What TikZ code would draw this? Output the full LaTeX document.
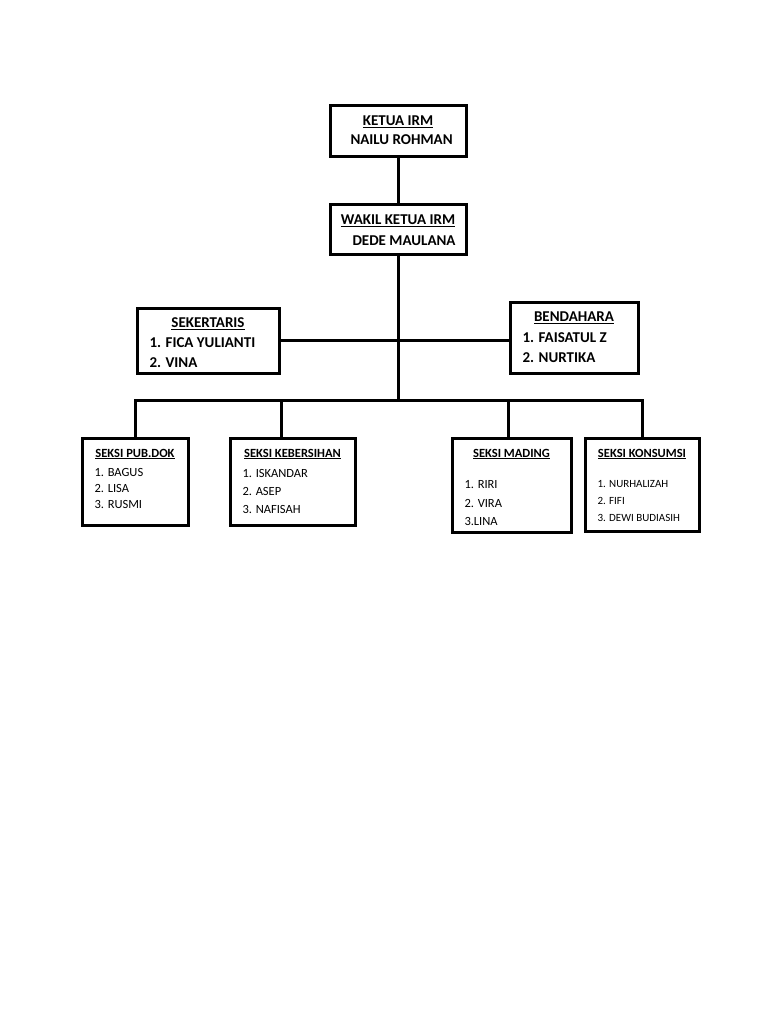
\documentclass[tikz,border=0pt]{standalone}
\usepackage{fontspec}
\setmainfont{Carlito}
\begin{document}
\begin{tikzpicture}[x=1pt,y=-1pt,line width=3pt]
        \tikzstyle{jabatan}=[draw=black,inner sep=0pt]
        \tikzstyle{garis}=[draw=black,line width=3pt]
        \tikzstyle{judul}=[font=\fontsize{15}{15}\selectfont\bfseries,inner sep=0pt]
        \tikzstyle{isi}=[font=\fontsize{15}{15}\selectfont,anchor=west,inner sep=0pt]
        \tikzstyle{judulkecil}=[font=\fontsize{12.5}{12}\selectfont\bfseries,inner sep=0pt]
        \tikzstyle{isikecil}=[font=\fontsize{12.5}{12}\selectfont,anchor=west,inner sep=0pt]
        \useasboundingbox (0,0) rectangle (768,1024);
        % kotak
        \node [jabatan,minimum width=136,minimum height=51] (ketua) at (398,131.5) {};
        \node [jabatan,minimum width=136,minimum height=49] (wakil) at (398,229.5) {};
        \node [jabatan,minimum width=142,minimum height=65] (sekretaris) at (208,340.5) {};
        \node [jabatan,minimum width=128,minimum height=71] (bendahara) at (574,337.5) {};
        \node [jabatan,minimum width=106,minimum height=87] (pubdok) at (135,481.5) {};
        \node [jabatan,minimum width=125,minimum height=87] (kebersihan) at (292.5,481.5) {};
        \node [jabatan,minimum width=119,minimum height=94] (mading) at (511.5,485) {};
        \node [jabatan,minimum width=114,minimum height=93] (konsumsi) at (642,484.5) {};
        % teks
        \node [judul] at (398,122) {\underline{KETUA IRM}};
        \node [isi] at (349,140) {\bfseries NAILU ROHMAN};
        \node [judul] at (398,221) {\underline{WAKIL KETUA IRM}};
        \node [isi] at (351,241) {\bfseries DEDE MAULANA};
        \node [judul] at (208,324) {\underline{SEKERTARIS}};
        \node [isi] at (148,343) {\bfseries 1. FICA YULIANTI};
        \node [isi] at (148,363) {\bfseries 2. VINA};
        \node [judul] at (574,318) {\underline{BENDAHARA}};
        \node [isi] at (521,338) {\bfseries 1. FAISATUL Z};
        \node [isi] at (521,358) {\bfseries 2. NURTIKA};
        \node [judulkecil] at (135,454) {\underline{SEKSI PUB.DOK}};
        \node [isikecil] at (93,472) {1. BAGUS};
        \node [isikecil] at (93,488) {2. LISA};
        \node [isikecil] at (93,504) {3. RUSMI};
        \node [judulkecil] at (292.5,454) {\underline{SEKSI KEBERSIHAN}};
        \node [isikecil] at (241,473) {1. ISKANDAR};
        \node [isikecil] at (241,491) {2. ASEP};
        \node [isikecil] at (241,509) {3. NAFISAH};
        \node [judulkecil] at (511.5,454) {\underline{SEKSI MADING}};
        \node [isikecil] at (463,485) {1. RIRI};
        \node [isikecil] at (463,503) {2. VIRA};
        \node [isikecil] at (463,521) {3.LINA};
        \node [judulkecil] at (642,454) {\underline{SEKSI KONSUMSI}};
        \node [isikecil,font=\fontsize{11}{11}\selectfont] at (596,484) {1. NURHALIZAH};
        \node [isikecil,font=\fontsize{11}{11}\selectfont] at (596,501) {2. FIFI};
        \node [isikecil,font=\fontsize{11}{11}\selectfont] at (596,518) {3. DEWI BUDIASIH};
        % garis
        \coordinate (cabang) at (398,400);
        \path[garis] (ketua) -- (wakil);
        \path[garis] (wakil) -- (cabang);
        \path[garis] (sekretaris.east) -- (sekretaris.east -| bendahara.west);
        \path[garis] (pubdok.north) -- (pubdok.north |- cabang) -- (konsumsi.north |- cabang) -- (konsumsi.north);
        \path[garis] (kebersihan.north -| 281,0) -- (281,400);
        \path[garis] (mading.north -| 508,0) -- (508,400);
\end{tikzpicture}
\end{document}
